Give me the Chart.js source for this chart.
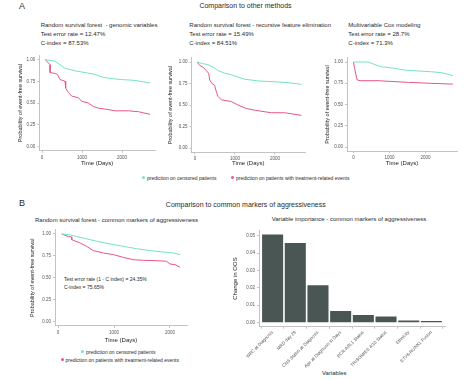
<!DOCTYPE html>
<html><head><meta charset="utf-8">
<script src="https://cdn.jsdelivr.net/npm/chart.js@4/dist/chart.umd.min.js"></script>
<style>
html,body{margin:0;padding:0;background:#fff;}
#wrap{position:relative;width:474px;height:380px;overflow:hidden;font-family:"Liberation Sans",Arial,sans-serif;color:#2a2a2a;}
canvas{position:absolute;left:0;top:0;}
.t{position:absolute;white-space:nowrap;line-height:1;}
.c{transform:translateX(-50%);}
.dot{display:inline-block;width:3px;height:3px;border-radius:50%;margin-right:2px;vertical-align:middle;position:relative;top:-0.5px;}
</style></head>
<body><div id="wrap">
<div class="t" style="left:19px;top:1.5px;font-size:9px;">A</div>
<div class="t c" style="left:245.5px;top:2px;font-size:7px;">Comparison to other methods</div>

<div class="t" style="left:40.7px;top:22px;font-size:6px;">Random survival forest&nbsp; - genomic variables</div>
<div class="t" style="left:40.7px;top:30.5px;font-size:6px;">Test error rate = 12.47%</div>
<div class="t" style="left:40.7px;top:39.5px;font-size:6px;">C-index = 87.53%</div>

<div class="t" style="left:189.3px;top:22px;font-size:6px;">Random survival forest - recursive feature elimination</div>
<div class="t" style="left:189.3px;top:30.5px;font-size:6px;">Test error rate = 15.49%</div>
<div class="t" style="left:189.3px;top:39.5px;font-size:6px;">C-index = 84.51%</div>

<div class="t" style="left:348.3px;top:22px;font-size:6px;">Multivariable Cox modeling</div>
<div class="t" style="left:348.3px;top:30.5px;font-size:6px;">Test error rate = 28.7%</div>
<div class="t" style="left:348.3px;top:39.5px;font-size:6px;">C-index = 71.3%</div>

<div class="t" style="left:142px;top:175.8px;font-size:5px;"><span class="dot" style="background:#74e2c8"></span>prediction on censored patients</div>
<div class="t" style="left:231px;top:175.8px;font-size:5px;"><span class="dot" style="background:#e65687"></span>prediction on patients with treatment-related events</div>

<div class="t" style="left:19px;top:198.5px;font-size:9px;">B</div>
<div class="t c" style="left:245.8px;top:200.5px;font-size:7px;">Comparison to common markers of aggressiveness</div>

<div class="t" style="left:35px;top:217px;font-size:6px;">Random survival forest - common markers of aggressiveness</div>
<div class="t" style="left:64px;top:276.8px;font-size:5px;">Test error rate (1 - C index) = 24.35%</div>
<div class="t" style="left:64px;top:285.2px;font-size:5px;">C-index = 75.65%</div>
<div class="t" style="left:81px;top:349.8px;font-size:5px;"><span class="dot" style="background:#74e2c8"></span>prediction on censored patients</div>
<div class="t" style="left:60.5px;top:357.5px;font-size:5px;"><span class="dot" style="background:#e65687"></span>prediction on patients with treatment-related events</div>

<div class="t c" style="left:349px;top:216.3px;font-size:6px;">Variable importance - common markers of aggressiveness</div>
<div class="t c" style="left:334.3px;top:370.3px;font-size:6px;">Variables</div>

<canvas id="a1" width="474" height="380"></canvas>
<canvas id="a2" width="474" height="380"></canvas>
<canvas id="a3" width="474" height="380"></canvas>
<canvas id="b1" width="474" height="380"></canvas>
<canvas id="b2" width="474" height="380"></canvas>
</div>
<script>
// ---------- data ----------
const dayTicks = [0, 1000, 2000];
const survTicks = [0, 0.25, 0.5, 0.75, 1];
const impTicks = [0, 0.01, 0.02, 0.03, 0.04, 0.05];

const a1CensDays = [75, 325, 450, 575, 825, 1075, 1325, 1490, 1740, 1990, 2325, 2700];
const a1CensSurv = [1.00, 0.98, 0.94, 0.90, 0.87, 0.85, 0.83, 0.80, 0.78, 0.77, 0.76, 0.73];
const a1EvtDays = [75, 160, 200, 200, 325, 380, 450, 575, 590, 660, 740, 910, 990, 1160, 1280, 1410, 1575, 1825, 2160, 2410, 2700];
const a1EvtSurv = [1.00, 0.96, 0.94, 0.85, 0.84, 0.83, 0.77, 0.75, 0.67, 0.62, 0.58, 0.56, 0.52, 0.50, 0.46, 0.44, 0.43, 0.41, 0.41, 0.40, 0.37];

const a2CensDays = [50, 200, 325, 450, 575, 740, 910, 1240, 1575, 1990, 2325, 2660];
const a2CensSurv = [1.00, 0.98, 0.97, 0.94, 0.90, 0.87, 0.85, 0.80, 0.78, 0.77, 0.76, 0.74];
const a2EvtDays = [50, 120, 200, 280, 340, 370, 425, 490, 530, 575, 660, 910, 1075, 1280, 1490, 1620, 1910, 2240, 2660];
const a2EvtSurv = [1.00, 0.96, 0.94, 0.90, 0.87, 0.79, 0.75, 0.73, 0.66, 0.60, 0.56, 0.54, 0.50, 0.46, 0.44, 0.43, 0.41, 0.41, 0.38];

const a3CensDays = [0, 400, 630, 770, 1140, 1420, 1790, 2160, 2440, 2760];
const a3CensSurv = [1.00, 1.00, 0.965, 0.945, 0.925, 0.905, 0.895, 0.885, 0.875, 0.84];
const a3EvtDays = [0, 30, 100, 185, 680, 1530, 2120, 2760];
const a3EvtSurv = [1.00, 0.925, 0.79, 0.78, 0.78, 0.76, 0.75, 0.74];

const b1CensDays = [65, 215, 335, 450, 570, 750, 930, 1165, 1405, 1645, 1880, 2060, 2180];
const b1CensSurv = [1.00, 0.99, 0.97, 0.954, 0.935, 0.909, 0.886, 0.859, 0.832, 0.81, 0.794, 0.783, 0.764];
const b1EvtDays = [65, 185, 245, 245, 395, 510, 630, 810, 990, 1165, 1345, 1525, 1760, 1940, 2000, 2090, 2180];
const b1EvtSurv = [1.00, 0.97, 0.966, 0.935, 0.897, 0.859, 0.81, 0.783, 0.764, 0.733, 0.706, 0.699, 0.695, 0.688, 0.657, 0.65, 0.62];

const varNames = ['WBC at Diagnosis', 'MRD day 29', 'CNS Status at Diagnosis', 'Age at Diagnosis in Days',
  'BCR-ABL1 Status', 'TRISOMIES 4/10 Status', 'Ethnicity', 'ETV6-RUNX1 Fusion'];
const varImportance = [0.0506, 0.0457, 0.0212, 0.0064, 0.0040, 0.0031, 0.0009, 0.0006];

// ---------- styles ----------
const TEAL = '#74e2c8', PINK = '#e65687', BAR = '#4a5654', AXIS = '#b4b4b4';
Chart.defaults.font.family = '"Liberation Sans", Arial, sans-serif';
Chart.defaults.color = '#555';
const gridOpt = {display: true, drawOnChartArea: false, drawTicks: true, tickLength: 2, color: AXIS, lineWidth: 0.8};
const borderOpt = {display: true, color: AXIS, width: 0.8};

function setTicks(vals) { return s => { s.ticks = vals.map(v => ({value: v})); }; }
function pts(xs, ys) { return xs.map((x, i) => ({x: x, y: ys[i]})); }

function survChart(id, g, series) {
  new Chart(document.getElementById(id), {
    type: 'line',
    data: {datasets: series.map(s => ({
      data: s.data, borderColor: s.color, borderWidth: 1, pointRadius: 0, tension: 0, fill: false
    }))},
    options: {
      responsive: false, animation: false, events: [],
      plugins: {legend: {display: false}, tooltip: {enabled: false}},
      layout: {padding: {left: g.L - g.W, right: 474 - g.R, top: g.T, bottom: 380 - g.B - g.H}},
      scales: {
        x: {type: 'linear', min: g.xmin, max: g.xmax,
          afterBuildTicks: setTicks(dayTicks), afterFit: s => { s.height = g.H; },
          ticks: {font: {size: 4.5}, padding: 2, maxRotation: 0, color: '#555', callback: v => String(v)},
          grid: gridOpt, border: borderOpt,
          title: {display: true, text: 'Time (Days)', font: {size: 6}, color: '#222', padding: 0}},
        y: {type: 'linear', min: -0.05, max: 1.05,
          afterBuildTicks: setTicks(survTicks), afterFit: s => { s.width = g.W; },
          ticks: {font: {size: 4.5}, padding: 2, color: '#555', callback: v => v.toFixed(2)},
          grid: gridOpt, border: borderOpt,
          title: {display: true, text: 'Probability of event-free survival', font: {size: 5.5}, color: '#222', padding: 0}}
      }
    }
  });
}

survChart('a1', {L: 39.3, R: 155, T: 55.2, B: 150.8, W: 22.6, H: 16.1, xmin: -70, xmax: 2825}, [
  {data: pts(a1CensDays, a1CensSurv), color: TEAL},
  {data: pts(a1EvtDays, a1EvtSurv), color: PINK}]);
survChart('a2', {L: 191.5, R: 305, T: 57.7, B: 152.3, W: 24.8, H: 14.6, xmin: -87, xmax: 2750}, [
  {data: pts(a2CensDays, a2CensSurv), color: TEAL},
  {data: pts(a2EvtDays, a2EvtSurv), color: PINK}]);
survChart('a3', {L: 347, R: 457, T: 57.75, B: 151.25, W: 22.6, H: 15.65, xmin: -180, xmax: 2875}, [
  {data: pts(a3CensDays, a3CensSurv), color: TEAL},
  {data: pts(a3EvtDays, a3EvtSurv), color: PINK}]);
survChart('b1', {L: 55, R: 187, T: 229.6, B: 325.9, W: 25.6, H: 18.4, xmin: -54, xmax: 2304}, [
  {data: pts(b1CensDays, b1CensSurv), color: TEAL},
  {data: pts(b1EvtDays, b1EvtSurv), color: PINK}]);

// ---------- bar chart ----------
const gb = {L: 259, R: 445, T: 230.4, B: 326.7, W: 27.6, H: 50};
new Chart(document.getElementById('b2'), {
  type: 'bar',
  data: {datasets: [{data: varImportance.map((v, i) => ({x: i + 1, y: v})),
    backgroundColor: BAR, borderWidth: 0, barThickness: 20.4}]},
  options: {
    responsive: false, animation: false, events: [],
    plugins: {legend: {display: false}, tooltip: {enabled: false}},
    layout: {padding: {left: gb.L - gb.W, right: 474 - gb.R, top: gb.T, bottom: 380 - gb.B - gb.H}},
    scales: {
      x: {type: 'linear', min: 0.4, max: 8.6, offset: false,
        afterBuildTicks: setTicks(varNames.map((n, i) => i + 1)), afterFit: s => { s.height = gb.H; },
        ticks: {font: {size: 4.5}, padding: 1, autoSkip: false, minRotation: 45, maxRotation: 45, color: '#555',
          callback: v => varNames[Math.round(v) - 1]},
        grid: gridOpt, border: borderOpt},
      y: {type: 'linear', min: -0.00253, max: 0.0531,
        afterBuildTicks: setTicks(impTicks), afterFit: s => { s.width = gb.W; },
        ticks: {font: {size: 4.5}, padding: 2, color: '#555', callback: v => v.toFixed(2)},
        grid: gridOpt, border: borderOpt,
        title: {display: true, text: 'Change in OOS', font: {size: 6}, color: '#222', padding: 0}}
    }
  }
});
</script>
</body></html>
